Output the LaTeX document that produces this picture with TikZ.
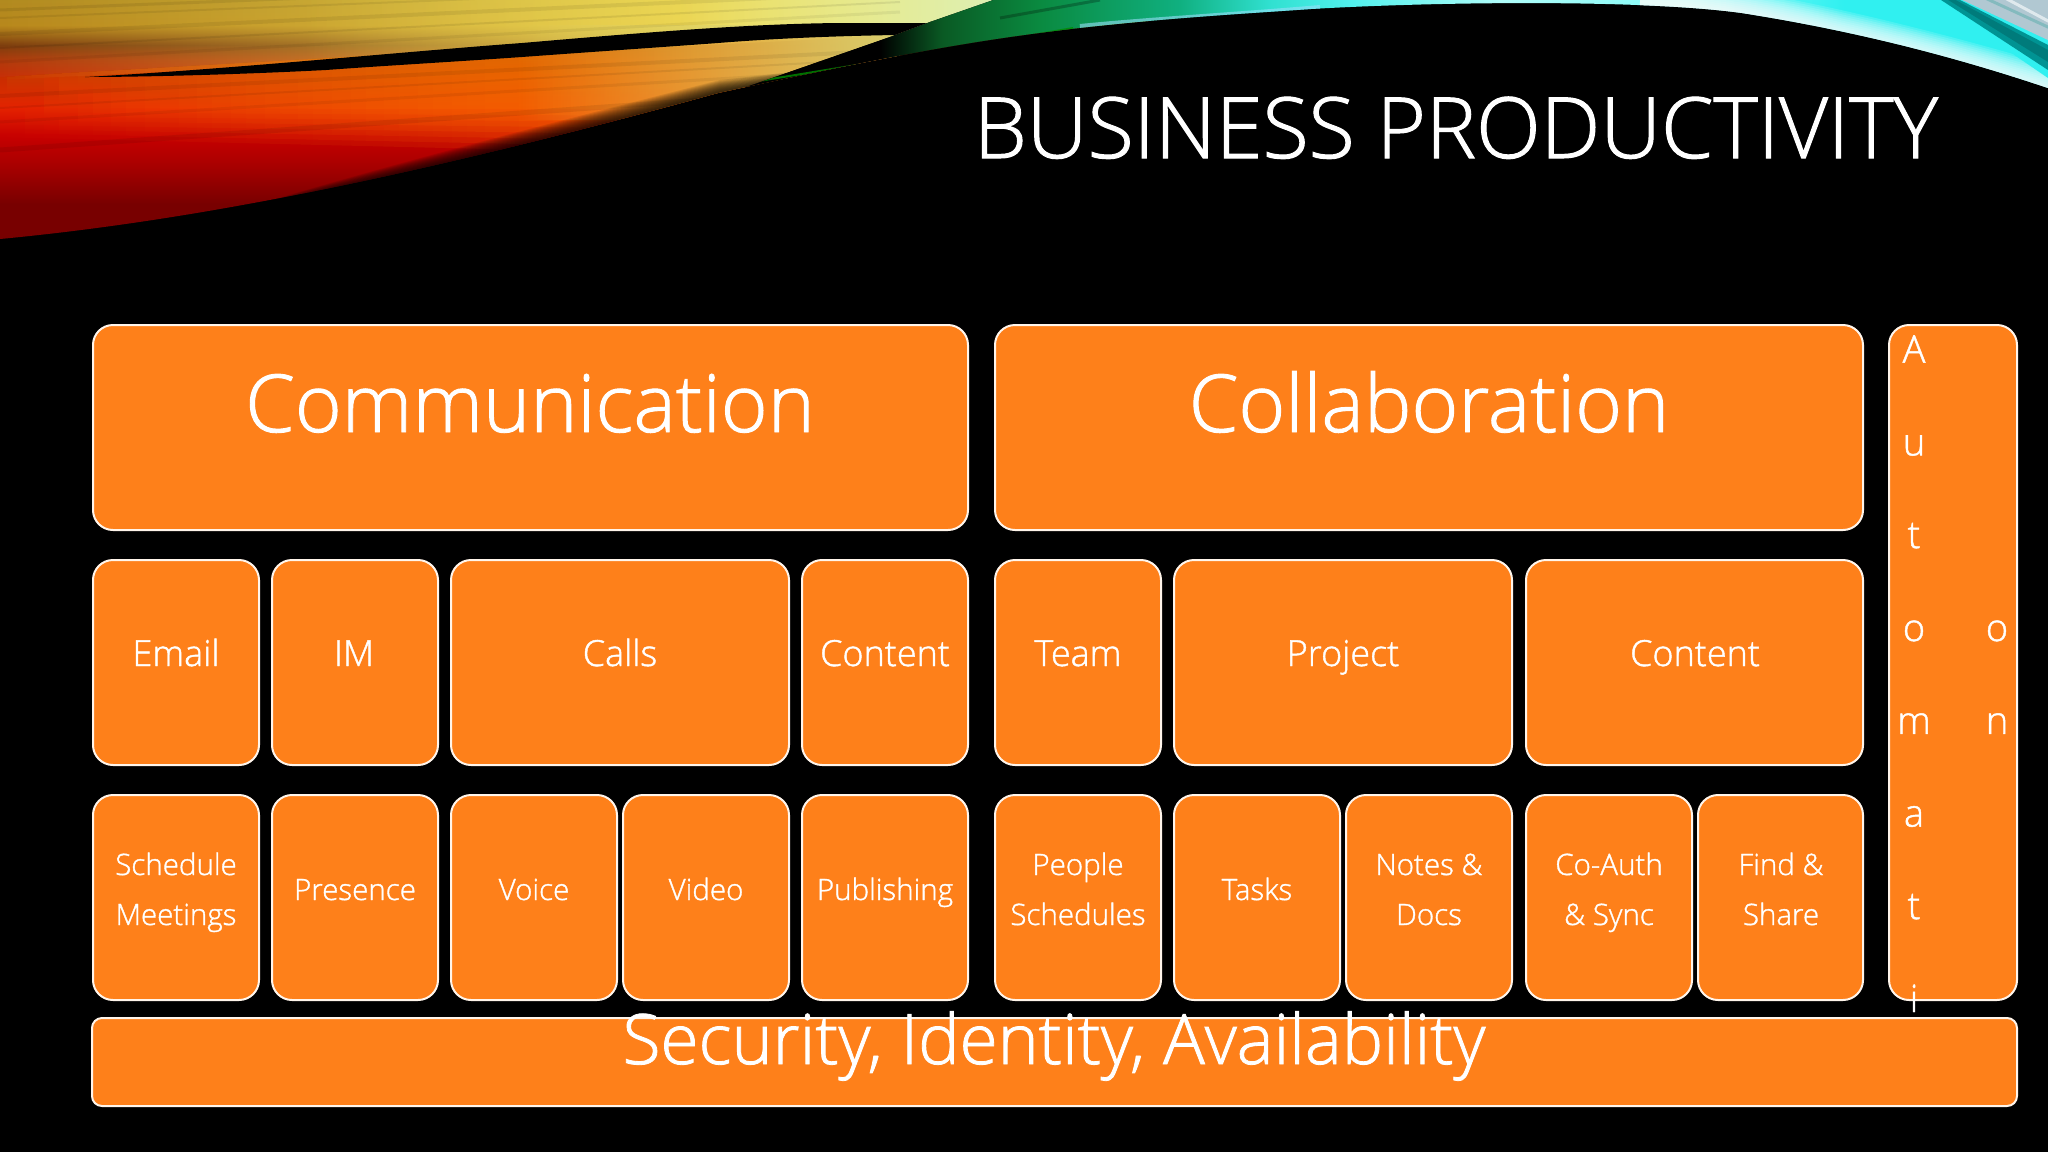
\documentclass[tikz,border=0pt]{standalone}
\usepackage{fontspec}
\setmainfont{Open Sans}[UprightFont=* Light,UprightFeatures={FakeBold=1.2}]
\usetikzlibrary{fadings}
\definecolor{boxorange}{HTML}{FE801A}
\definecolor{c0}{HTML}{8C6A18}
\definecolor{c1}{HTML}{B08A20}
\definecolor{c2}{HTML}{B8881C}
\definecolor{c3}{HTML}{7E3E0E}
\definecolor{c4}{HTML}{B03A0C}
\definecolor{c5}{HTML}{CC2C06}
\definecolor{c6}{HTML}{E41A00}
\definecolor{c7}{HTML}{C80000}
\definecolor{c8}{HTML}{A80000}
\definecolor{c9}{HTML}{780000}
\definecolor{g0}{HTML}{0A5A24}
\definecolor{g1}{HTML}{0A8A40}
\definecolor{g2}{HTML}{10B080}
\definecolor{g3}{HTML}{30E0D0}
\definecolor{g4}{HTML}{50F0EC}
\definecolor{g5}{HTML}{B0FDFA}
\definecolor{g6}{HTML}{80FBF8}
\definecolor{g7}{HTML}{30F0F0}
\definecolor{pale}{HTML}{DCF0B8}
\definecolor{lime}{HTML}{D8D070}
\definecolor{sun}{HTML}{F8E860}
\pgfdeclareverticalshading{warm}{100bp}{
   color(0bp)=(c9);
   color(39.1bp)=(c9);
   color(44.8bp)=(c8);
   color(49.3bp)=(c7);
   color(53.2bp)=(c6);
   color(57.3bp)=(c5);
   color(60.3bp)=(c4);
   color(62.5bp)=(c3);
   color(65.4bp)=(c2);
   color(69.8bp)=(c1);
   color(74.2bp)=(c0);
   color(100bp)=(c0)}
\pgfdeclarehorizontalshading{cool}{100bp}{
   color(0bp)=(black);
   color(31.3bp)=(black);
   color(33.6bp)=(g0);
   color(37.2bp)=(g1);
   color(42.4bp)=(g2);
   color(45.7bp)=(g3);
   color(48.7bp)=(g4);
   color(54.3bp)=(g5);
   color(61.7bp)=(g6);
   color(67bp)=(g7);
   color(100bp)=(g7)}
\tikzset{
  tile/.style={draw=white!92!orange,line width=2pt,fill=boxorange,rounded corners=20pt,text=white},
  bar/.style={draw=white!92!orange,line width=2pt,fill=boxorange,rounded corners=10pt},
  lbl/.style={text=white,inner sep=0pt,anchor=base,align=center},
  small/.style={font=\fontsize{29.5}{50}\selectfont},
  mid/.style={font=\fontsize{36}{40}\selectfont},
  big/.style={font=\fontsize{80}{80}\selectfont},
  letter/.style={lbl,font=\fontsize{38}{40}\selectfont}
}
\newcommand{\tile}[5]{%
 \node[tile,minimum width=#3-#1,minimum height=#4-#2,anchor=north west,inner sep=0pt] (#5) at (#1-1,#2-1) {};}
\begin{document}
\begin{tikzpicture}[x=1pt,y=-1pt]
\useasboundingbox (0,0) rectangle (2048,1152);
\fill[black] (0,0) rectangle (2048,1152);
% swoosh
\begin{scope}
\clip (0,0) -- (0,239) .. controls (200,220) and (420,175) .. (718,93)
  .. controls (860,62) and (950,45) .. (1024,35)
  .. controls (1130,20) and (1240,14) .. (1311,9)
  .. controls (1450,1) and (1650,0) .. (1742,13)
  .. controls (1850,30) and (1950,55) .. (2048,88) -- (2048,0) -- cycle;
 \begin{scope}[shift={(500,130)},rotate=-4]
   \node[inner sep=0pt,minimum width=1300pt,minimum height=340pt,shading=warm,shading angle=0] (warmband) at (0,0) {};
 \end{scope}
 % right fade to yellow, above the streak
 \path[path fading=west,fill=sun,opacity=1] (0,-5) -- (1010,-5) -- (1010,30) -- (0,80) -- cycle;
 \path[path fading=west,fill=sun,opacity=.8] (300,-5) -- (1010,-5) -- (1010,30) -- (300,62) -- cycle;
 \path[path fading=west,fill=pale,opacity=1] (680,-5) -- (1010,-5) -- (1010,30) -- (680,35) -- cycle;
 % below the streak: orange, then yellow green
 \foreach \k in {0,...,7}{
  \path[path fading=west,fill=orange,opacity=.22] (-50,80) -- (900,25) -- (900,110+\k*7) -- (-50,108+\k*4) -- cycle;
 }
 \path[path fading=west,fill=lime,opacity=1] (520,25) rectangle (900,120);
 % texture
 \foreach \a/\b/\w/\o in {10/-15/3/.08,18/-8/2/.07,34/2/4/.07,48/12/2/.08,62/22/3/.06,96/60/4/.07,108/68/2/.07,122/78/3/.06,150/96/5/.08}{
  \draw[black,line width=\w pt,opacity=\o] (0,\a) -- (900,\b-10);
 }
 % dark fade along lower edge
 \foreach \k in {1,...,20}{
  \fill[black,opacity=0.09] (200,222) .. controls (350,195-\k*1.0) and (500,160-\k*1.2) .. (720,98-\k*0.9)
    -- (900,60) -- (900,90) -- (300,250) -- cycle;
 }
 % teal and green
 \begin{scope}
  \clip (689,107) -- (890,37) -- (930,22) -- (1002,-3) -- (2060,-3) -- (2060,110) -- (1024,60) -- cycle;
  \fill[black] (680,-3) rectangle (1100,120);
  \node[inner sep=0pt,minimum width=1350pt,minimum height=120pt,shading=cool,anchor=west] (coolband) at (710,50) {};
  \draw[green!55!black,line width=2pt,opacity=.8] (734,85) -- (912,56) -- (1073,28);
  \draw[cyan!40!white,line width=6pt,opacity=.6] (1080,27) .. controls (1150,20) and (1240,15) .. (1320,8);
  \foreach \k in {2,6,...,46}{
   \draw[white,line width=\k pt,opacity=.14] (1640,2) .. controls (1720,6) and (1850,30) .. (2048,88);
  }
  \draw[black,line width=3pt,opacity=.25] (1000,18) -- (1100,0);
 \end{scope}
 % top right streak
 \fill[g7] (1931,-2) -- (1958,-2) -- (2048,40) -- (2048,78) -- cycle;
 \fill[teal!85!cyan] (1938,-2) -- (1956,-2) -- (2048,45) -- (2048,70) -- cycle;
 \fill[teal!70!black,opacity=.4] (1945,-2) -- (1952,-2) -- (2048,50) -- (2048,62) -- cycle;
 \fill[cyan!30!gray!55!white] (1958,-2) -- (2050,-2) -- (2050,41) -- cycle;
 \draw[teal!60!white,line width=3pt,opacity=.6] (1985,-2) -- (2050,28);
 \draw[white,line width=3pt,opacity=.6] (2005,-2) -- (2050,22);
 % black streak
 \fill[black] (85,77) .. controls (220,70) and (400,52) .. (522,43)
   .. controls (650,32) and (760,23) .. (849,23) -- (927,23)
   -- (895,35) .. controls (840,36) and (780,38) .. (718,43)
   .. controls (650,48) and (590,52) .. (522,57)
   .. controls (450,62) and (380,66) .. (326,70)
   .. controls (250,74) and (150,77) .. (85,77) -- cycle;
\end{scope}
% title
\node[lbl,font=\fontsize{84.5}{90}\selectfont] (title) at (1456,158) {BUSINESS PRODUCTIVITY};
% tiles
\tile{93}{325}{968}{530}{comm}
\tile{995}{325}{1863}{530}{coll}
\tile{93}{560}{259}{765}{email}
\tile{272}{560}{438}{765}{im}
\tile{451}{560}{789}{765}{calls}
\tile{802}{560}{968}{765}{content1}
\tile{995}{560}{1161}{765}{team}
\tile{1174}{560}{1512}{765}{project}
\tile{1526}{560}{1863}{765}{content2}
\tile{93}{795}{259}{1000}{sched}
\tile{272}{795}{438}{1000}{pres}
\tile{451}{795}{617}{1000}{voice}
\tile{623}{795}{789}{1000}{video}
\tile{802}{795}{968}{1000}{publ}
\tile{995}{795}{1161}{1000}{people}
\tile{1174}{795}{1340}{1000}{tasks}
\tile{1346}{795}{1512}{1000}{notes}
\tile{1526}{795}{1692}{1000}{coauth}
\tile{1698}{795}{1863}{1000}{find}
\tile{1889}{325}{2017}{1000}{auto}
\node[bar,minimum width=1925pt,minimum height=88pt,anchor=north west,inner sep=0pt] (sec) at (91,1017) {};
% labels
\node[lbl,big] (tcomm) at (530,432) {Communication};
\node[lbl,big] (tcoll) at (1429,432) {Collaboration};
\foreach \t/\x/\n in {Email/176/a,IM/354/b,Calls/620/c,Content/885/d,Team/1078/e,Project/1343/f,Content/1695/g}
  \node[lbl,mid] (m\n) at (\x,666) {\t};
\node[lbl,small] (lsched) at (176,925) {Schedule\\Meetings};
\node[lbl,small] (lpres) at (355,900) {Presence};
\node[lbl,small] (lvoice) at (534,900) {Voice};
\node[lbl,small] (lvideo) at (706,900) {Video};
\node[lbl,small] (lpubl) at (885,900) {Publishing};
\node[lbl,small] (lpeople) at (1078,925) {People\\Schedules};
\node[lbl,small] (ltasks) at (1257,900) {Tasks};
\node[lbl,small] (lnotes) at (1429,925) {Notes \&\\Docs};
\node[lbl,small] (lcoauth) at (1609,925) {Co-Auth\\\& Sync};
\node[lbl,small] (lfind) at (1781,925) {Find \&\\Share};
\foreach \c/\y/\n in {A/362.6/a,u/455.4/b,t/548/c,o/641/d,m/733.8/e,a/826.6/f,t/919/g,i/1012/h}
  \node[letter] (au\n) at (1914,\y) {\c};
\node[letter] (aui) at (1997,641) {o};
\node[letter] (auj) at (1997,733.8) {n};
\node[lbl,font=\fontsize{69.5}{70}\selectfont] (tsec) at (1054,1064) {Security, Identity, Availability};
\end{tikzpicture}
\end{document}
